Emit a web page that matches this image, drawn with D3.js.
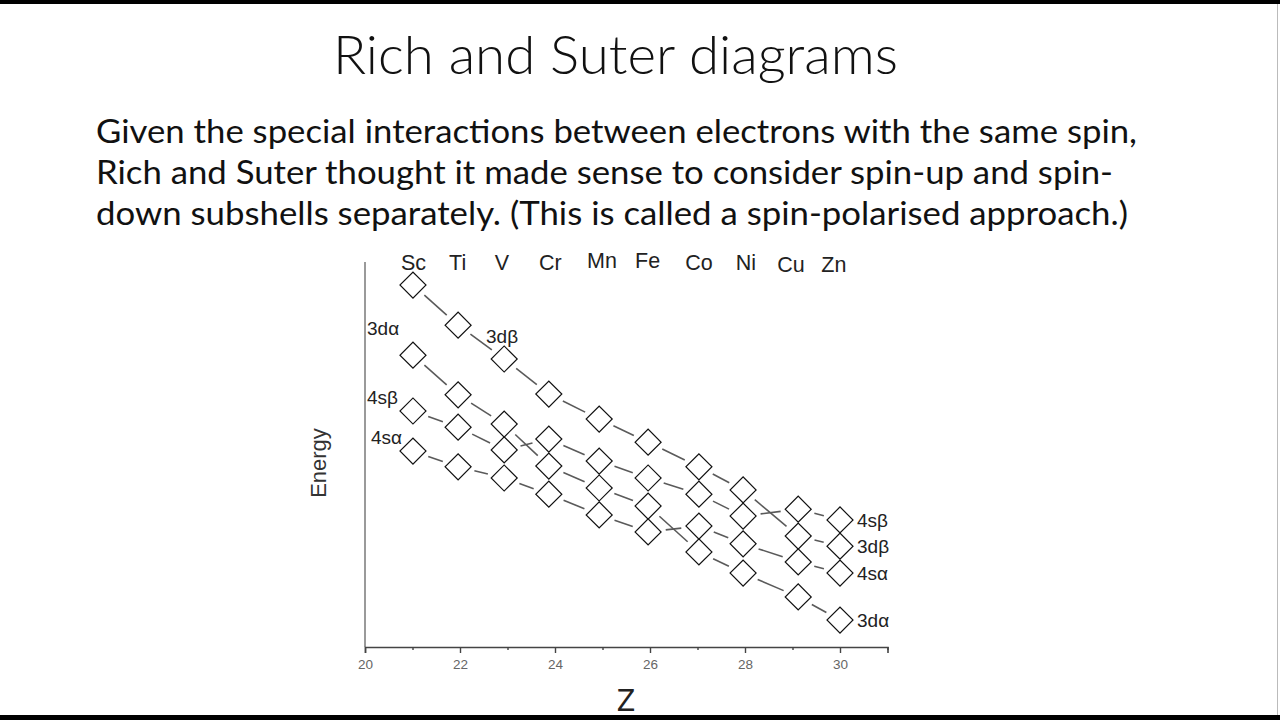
<!DOCTYPE html>
<html>
<head>
<meta charset="utf-8">
<script src="https://cdn.jsdelivr.net/npm/d3@7/dist/d3.min.js"></script>
<style>
  html, body { margin: 0; padding: 0; background: #fff; }
  svg { display: block; }
</style>
</head>
<body>
<svg id="chart" width="1280" height="720"></svg>
<script>
// ---------- data ----------
const elements = ["Sc", "Ti", "V", "Cr", "Mn", "Fe", "Co", "Ni", "Cu", "Zn"];
// horizontal position (Z) of each element's markers
const zPos = [21.01, 21.96, 22.93, 23.87, 24.93, 25.96, 27.03, 27.96, 29.12, 30.0];
// horizontal position of each element symbol at the top
const labelZ = [21.02, 21.95, 22.88, 23.9, 24.99, 25.95, 27.03, 28.02, 28.97, 29.87];
// energies in arbitrary units (0 = x axis, 100 = top of y axis)
const e3dBeta  = [94.0, 83.6, 74.8, 65.7, 59.2, 53.2, 46.8, 40.8, 28.8, 26.2];
const e4sBeta  = [61.3, 57.1, 51.2, 54.0, 48.3, 43.9, 39.7, 34.0, 35.8, 33.0];
const e3dAlpha = [75.8, 65.5, 57.9, 47.0, 41.3, 36.6, 24.7, 19.2, 13.0, 7.0];
const e4sAlpha = [50.9, 46.8, 43.9, 39.7, 34.3, 29.9, 31.4, 26.8, 22.1, 19.2];
const seriesNames = ["3dβ", "4sβ", "3dα", "4sα"];
const majorTicks = [20, 22, 24, 26, 28, 30];
const minorTicks = [21, 23, 25, 27, 29, 31];
const titleText = "Rich and Suter diagrams";
const bodyLines = [
  "Given the special interactions between electrons with the same spin,",
  "Rich and Suter thought it made sense to consider spin-up and spin-",
  "down subshells separately. (This is called a spin-polarised approach.)"
];

// ---------- drawing ----------
const svg = d3.select("#chart");
const W = 1280, H = 720;

// frame bars
svg.append("rect").attr("x", 0).attr("y", 0).attr("width", W).attr("height", 4).attr("fill", "#000");
svg.append("rect").attr("x", 0).attr("y", 715).attr("width", W).attr("height", 5).attr("fill", "#000");
svg.append("line").attr("x1", 1277.5).attr("x2", 1277.5).attr("y1", 4).attr("y2", 715)
  .attr("stroke", "#bbb").attr("stroke-width", 1);

// title
svg.append("text").attr("x", 333).attr("y", 74)
  .attr("font-family", "Lato, 'Open Sans', sans-serif").attr("font-weight", 300)
  .attr("font-size", 54).attr("fill", "#111")
  .attr("textLength", 565).attr("lengthAdjust", "spacingAndGlyphs")
  .text(titleText);

// body text
const bodyWidths = [1041, 1017, 1032];
const bodyBase = [143, 184, 225];
bodyLines.forEach((t, i) => {
  svg.append("text").attr("x", 96).attr("y", bodyBase[i])
    .attr("font-family", "Lato, 'Open Sans', sans-serif")
    .attr("font-size", 33).attr("fill", "#111")
    .attr("textLength", bodyWidths[i]).attr("lengthAdjust", "spacingAndGlyphs")
    .text(t);
});

// scales
const x = d3.scaleLinear().domain([20, 31]).range([365, 887.5]);
const y = d3.scaleLinear().domain([0, 100]).range([647, 262]);

const g = svg.append("g");

// y axis line (no ticks)
g.append("line").attr("x1", x(20)).attr("x2", x(20)).attr("y1", y(100)).attr("y2", y(0))
  .attr("stroke", "#9a9a9a").attr("stroke-width", 2);

// x axis
const xAxisMajor = d3.axisBottom(x).tickValues(majorTicks).tickSize(6).tickFormat(d3.format("d"));
const axG = g.append("g").attr("transform", `translate(0,${y(0)})`).call(xAxisMajor);
axG.select(".domain").attr("stroke", "#444").attr("stroke-width", 1.6);
axG.selectAll(".tick line").attr("stroke", "#444").attr("stroke-width", 1.4);
axG.selectAll(".tick text").attr("font-family", "Liberation Sans, Arial, sans-serif")
  .attr("font-size", 13.5).attr("fill", "#666").attr("dy", "0.95em");
const axMinor = d3.axisBottom(x).tickValues(minorTicks).tickSize(3).tickFormat("");
const mG = g.append("g").attr("transform", `translate(0,${y(0)})`).call(axMinor);
mG.select(".domain").remove();
mG.selectAll(".tick line").attr("stroke", "#444").attr("stroke-width", 1.4);

// axis titles
svg.append("text").attr("transform", "translate(326,463) rotate(-90)")
  .attr("text-anchor", "middle")
  .attr("font-family", "Liberation Sans, Arial, sans-serif").attr("font-size", 22).attr("fill", "#333")
  .text("Energy");
svg.append("text").attr("x", 626).attr("y", 711).attr("text-anchor", "middle")
  .attr("font-family", "'DejaVu Sans Condensed', 'Liberation Sans Narrow', Arial, sans-serif")
  .attr("font-size", 30).attr("fill", "#222")
  .text("Z");

// element symbols
g.selectAll("text.el").data(elements).join("text").attr("class", "el")
  .attr("x", (d, i) => x(labelZ[i])).attr("y", (d, i) => (d === "Cu" || d === "Zn") ? 272 : (d === "Mn" || d === "Fe") ? 268 : 270)
  .attr("text-anchor", "middle")
  .attr("font-family", "Liberation Sans, Arial, sans-serif").attr("font-size", 21.5).attr("fill", "#222")
  .text(d => d);

// connectors and markers
const allSeries = [e3dBeta, e4sBeta, e3dAlpha, e4sAlpha];
const half = 13; // half diagonal of diamond in px
const gap = 6;
allSeries.forEach(vals => {
  const pts = vals.map((v, i) => [x(zPos[i]), y(v)]);
  const segs = d3.pairs(pts).map(([a, b]) => {
    const dx = b[0] - a[0], dy = b[1] - a[1];
    const len = Math.hypot(dx, dy);
    const ux = dx / len, uy = dy / len;
    const t = half / (Math.abs(ux) + Math.abs(uy)) + gap;
    return [a[0] + ux * t, a[1] + uy * t, b[0] - ux * t, b[1] - uy * t];
  });
  g.append("g").selectAll("line").data(segs).join("line")
    .attr("x1", d => d[0]).attr("y1", d => d[1]).attr("x2", d => d[2]).attr("y2", d => d[3])
    .attr("stroke", "#5a5a5a").attr("stroke-width", 1.6);
});
const diamond = d3.symbol(d3.symbolSquare, 2 * half * half);
allSeries.forEach(vals => {
  g.append("g").selectAll("path").data(vals).join("path")
    .attr("d", diamond)
    .attr("transform", (v, i) => `translate(${x(zPos[i])},${y(v)}) rotate(45)`)
    .attr("fill", "#fff").attr("stroke", "#111").attr("stroke-width", 1.2);
});

// series labels (left side near Sc/Ti and right side at Zn)
const labelFont = "Liberation Sans, Arial, sans-serif";
const leftLabels = [
  { name: seriesNames[2], x: 367, y: 335 },
  { name: seriesNames[0], x: 486, y: 343 },
  { name: seriesNames[1], x: 367, y: 404 },
  { name: seriesNames[3], x: 371, y: 444 }
];
g.selectAll("text.ll").data(leftLabels).join("text").attr("class", "ll")
  .attr("x", d => d.x).attr("y", d => d.y)
  .attr("font-family", labelFont).attr("font-size", 19).attr("fill", "#222")
  .text(d => d.name);
const last = zPos.length - 1;
g.selectAll("text.rl").data(allSeries).join("text").attr("class", "rl")
  .attr("x", x(zPos[last]) + 17).attr("y", v => y(v[last]) + 7)
  .attr("font-family", labelFont).attr("font-size", 19).attr("fill", "#222")
  .text((v, i) => seriesNames[i]);
</script>
</body>
</html>
